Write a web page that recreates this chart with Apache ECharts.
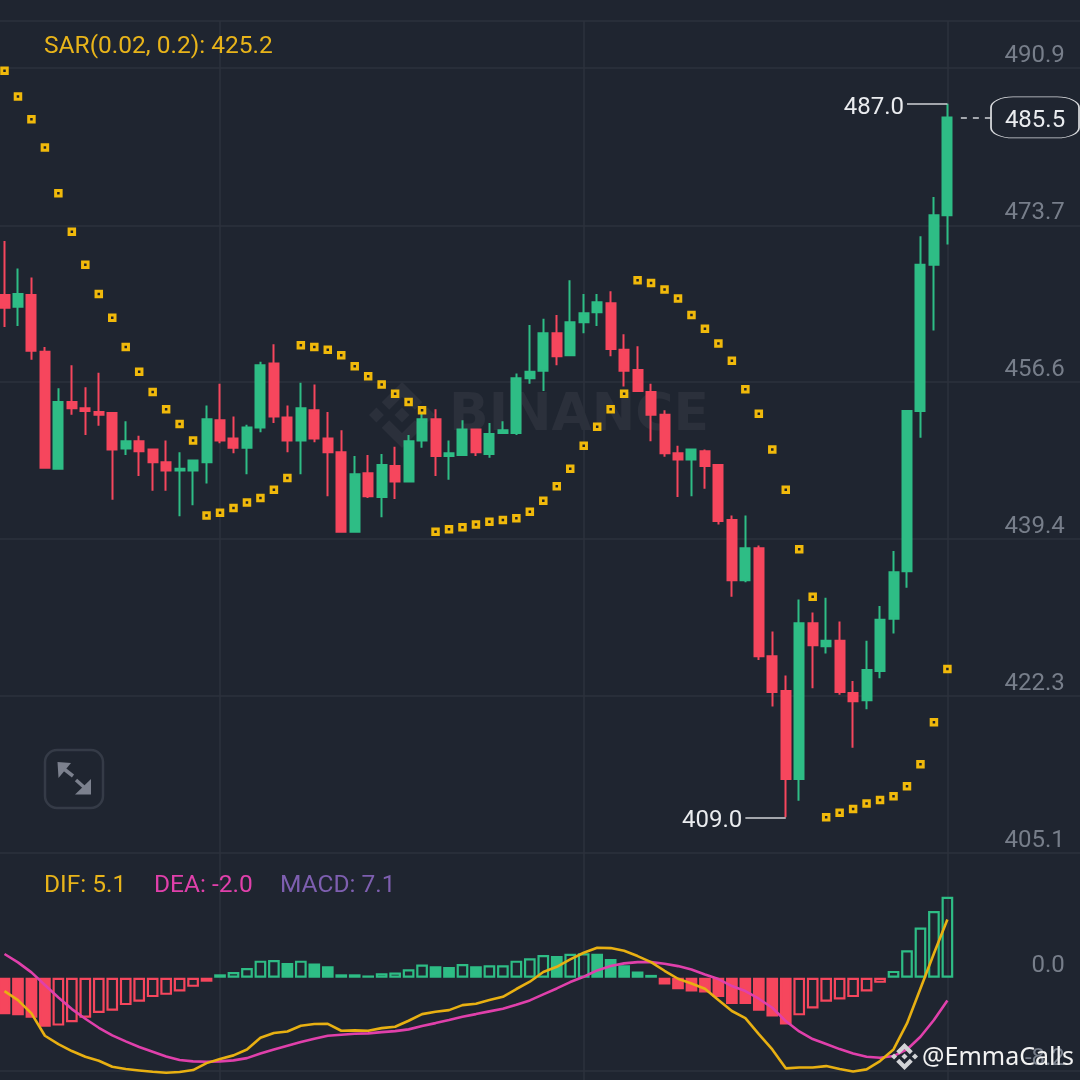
<!DOCTYPE html>
<html>
<head>
<meta charset="utf-8">
<title>SAR MACD</title>
<script src="https://cdn.jsdelivr.net/npm/echarts@6/dist/echarts.min.js"></script>
<style>
html, body { margin: 0; padding: 0; background: #1f2530; }
#chart { width: 1080px; height: 1080px; }
</style>
</head>
<body>
<div id="chart"></div>
<script>
// [open, close, low, high]
var candleData = [
    [466.1,464.7,462.6,472.0],[464.8,466.2,462.7,469.0],[466.1,460.0,459.0,468.0],[459.9,447.2,447.1,460.4],
    [447.1,454.4,447.1,455.9],[454.4,453.7,453.0,458.4],[453.7,453.4,450.8,456.0],[453.3,453.0,451.8,457.6],
    [453.2,449.2,443.7,453.3],[449.3,450.1,448.6,452.3],[450.1,449.0,446.3,450.7],[449.2,447.8,444.7,449.2],
    [447.8,446.9,444.7,450.2],[446.9,447.1,441.9,448.9],[446.9,448.0,443.1,448.1],[447.8,452.5,445.5,454.0],
    [452.4,450.2,449.9,456.4],[450.4,449.4,448.8,452.8],[449.4,451.6,446.5,451.9],[451.6,458.4,451.1,458.8],
    [458.6,452.8,452.1,460.7],[452.7,450.2,448.9,454.0],[450.2,453.7,446.5,456.5],[453.5,450.4,450.0,456.3],
    [450.4,448.9,444.1,453.3],[448.9,440.2,440.2,451.3],[440.2,446.5,440.2,448.5],[446.6,444.1,443.9,448.6],
    [444.0,447.5,441.8,448.7],[447.4,445.7,443.8,449.5],[445.7,450.1,445.7,450.8],[450.2,452.5,449.4,453.1],
    [452.5,448.5,446.3,453.6],[448.5,448.8,445.9,450.2],[448.6,451.4,448.5,452.4],[451.4,448.9,448.5,451.4],
    [448.7,450.9,448.3,452.1],[451.0,451.3,451.0,452.3],[451.0,457.0,450.8,457.5],[457.0,457.7,456.4,462.8],
    [457.8,461.9,455.6,463.5],[461.9,459.4,458.4,463.9],[459.5,463.1,459.5,467.7],[463.1,464.1,461.9,466.2],
    [464.2,465.3,462.7,466.2],[465.2,460.2,459.4,466.5],[460.1,457.8,456.1,461.8],[457.9,455.6,455.5,460.5],
    [455.5,453.0,450.1,456.4],[453.0,448.8,448.4,453.5],[448.8,448.1,444.0,449.6],[448.1,449.2,444.1,449.2],
    [449.0,447.4,444.9,449.2],[447.5,441.4,441.0,447.5],[441.5,434.9,433.1,442.0],[434.9,438.4,434.7,442.0],
    [438.4,426.6,426.2,438.7],[426.6,422.7,421.1,429.3],[422.8,413.2,409.0,424.5],[413.2,430.2,410.8,432.8],
    [430.2,427.8,423.1,431.4],[427.7,428.3,426.9,433.0],[428.3,422.7,422.4,430.4],[422.6,421.7,416.6,423.9],
    [421.8,425.1,420.8,428.3],[425.0,430.6,424.2,432.1],[430.7,435.8,429.1,438.1],[435.9,453.4,434.1,453.5],
    [453.4,469.4,450.5,472.5],[469.4,474.8,462.2,476.8],[474.8,485.5,471.6,487.0]
];
var sarValues = [
    490.6,487.8,485.3,482.2,477.2,473.0,469.4,466.2,463.6,460.4,457.7,455.5,453.6,452.0,450.2,
    442.0,442.3,442.8,443.4,443.9,444.8,446.1,
    460.6,460.4,460.1,459.5,458.3,457.2,456.3,455.3,454.4,453.5,
    440.2,440.5,440.7,441.0,441.3,441.5,441.7,442.4,443.6,445.2,447.1,449.6,451.7,453.6,455.3,
    467.7,467.4,466.7,465.7,463.9,462.4,460.8,458.9,455.8,453.1,449.2,444.8,438.3,433.1,
    409.0,409.5,409.9,410.5,410.9,411.3,412.4,414.8,419.4,425.2
];
var macdValues = [
    -3.2,-3.3,-3.5,-4.3,-4.2,-3.9,-3.5,-3.1,-2.9,-2.4,-2.1,-1.7,-1.5,-1.2,-0.8,-0.35,
    0.3,0.5,0.85,1.5,1.55,1.3,1.5,1.25,1.0,0.3,0.3,0.2,0.4,0.45,0.75,1.15,1.0,0.95,1.2,1.0,1.1,1.1,
    1.5,1.7,2.0,1.9,2.1,2.15,2.1,1.65,1.1,0.55,0.25,
    -0.6,-1.0,-1.2,-1.3,-1.7,-2.3,-2.3,-2.9,-3.4,-4.1,-3.3,-2.7,-2.1,-1.9,-1.7,-1.2,-0.45,
    0.6,2.4,4.4,5.85,7.1
];
// 1 = the bar is drawn as an outline only
var macdHollow = [
    0,0,0,0,1,1,1,1,1,1,1,1,1,1,1,0,0,1,1,1,1,0,1,0,0,0,0,0,1,1,1,1,0,0,1,0,
    1,1,1,1,1,0,1,1,0,0,0,0,0,0,0,0,0,0,0,0,0,0,0,1,1,1,1,1,1,1,1,1,1,1,1
];
var difValues = [
    -1.17,-1.96,-3.13,-5.09,-5.82,-6.43,-6.93,-7.28,-7.81,-8.01,-8.13,-8.25,-8.33,-8.27,-8.10,-7.49,
    -7.13,-6.81,-6.29,-5.26,-4.85,-4.71,-4.21,-4.06,-4.04,-4.65,-4.62,
    -4.65,-4.42,-4.30,-3.77,-3.19,-2.98,-2.84,-2.40,-2.28,-1.96,-1.67,-0.99,-0.35,0.50,0.96,1.61,2.19,
    2.63,2.60,2.37,1.90,1.37,0.61,-0.09,-0.50,-0.96,-1.96,
    -2.92,-3.54,-4.94,-6.29,-7.95,-7.87,-7.87,-7.75,-8.01,-8.22,-8.04,-7.31,-6.29,-4.01,-0.94,2.13,5.1
];
var deaValues = [
    2.08,1.35,0.47,-0.64,-1.73,-2.75,-3.60,-4.39,-5.06,-5.58,-6.08,-6.49,-6.90,-7.22,-7.34,-7.37,
    -7.34,-7.25,-7.05,-6.64,-6.29,-5.96,-5.64,-5.35,-5.09,-5.00,-4.91,
    -4.88,-4.77,-4.68,-4.53,-4.24,-3.98,-3.71,-3.42,-3.19,-2.95,-2.72,-2.37,-1.99,-1.46,-0.94,-0.38,0.09,
    0.64,1.02,1.26,1.37,1.37,1.23,1.02,0.73,0.29,-0.12,
    -0.73,-1.17,-1.84,-2.63,-3.80,-4.71,-5.38,-5.82,-6.26,-6.64,-6.93,-7.02,-6.87,-6.29,-5.18,-3.71,-2.0
];
var priceLabels = [405.1, 422.3, 439.4, 456.6, 473.7, 490.9];
var priceLines = [405.1, 422.3, 439.4, 456.6, 473.7, 490.9, 496.04];
var macdLabels = [-8.2, 0];
var macdLines = [-8.2];
var verticalLines = [16, 43, 70];
var highPrice = 487.0, lowPrice = 409.0, lastPrice = 485.5;
var sarText = 'SAR(0.02, 0.2): 425.2';
var difText = 'DIF: 5.1', deaText = 'DEA: -2.0', macdText = 'MACD: 7.1';

var upColor = '#2ebd85', downColor = '#f6465d', gridColor = '#2d323d', axisText = '#777e8a';
var yellow = '#f0b90b', pink = '#e040ab', purple = '#7e5fb0', bg = '#1f2530';
var fontName = 'Roboto';

// the five pieces of the exchange logo, on a box of 126.6
var logoPieces = [
    [[38.73,53.2],[63.32,28.62],[87.92,53.22],[102.22,38.91],[63.32,0],[24.42,38.9]],
    [[0,63.31],[14.3,49],[28.61,63.31],[14.3,77.61]],
    [[38.73,73.41],[63.32,98],[87.92,73.4],[102.23,87.69],[63.33,126.6],[24.42,87.72]],
    [[98,63.31],[112.3,49],[126.61,63.3],[112.3,77.62]],
    [[77.83,63.3],[63.32,48.78],[48.81,63.28],[63.32,77.79]]
];

// the axis runs on past the last candle, the right side is where the price labels sit
var categories = [];
for (var i = 0; i < 81; i++) {
    categories.push(String(i));
}

function showVertical(index) {
    return verticalLines.indexOf(index) >= 0;
}

function xAxisFor(gridIndex) {
    return {
        type: 'category',
        gridIndex: gridIndex,
        data: categories,
        axisLine: { show: false },
        axisTick: { show: false },
        axisLabel: { show: false },
        splitLine: {
            show: true,
            alignWithLabel: true,
            interval: showVertical,
            lineStyle: { color: gridColor, width: 1.5 }
        }
    };
}

function yAxisFor(gridIndex, min, max, lines, labels) {
    return {
        type: 'value',
        gridIndex: gridIndex,
        position: 'right',
        min: min,
        max: max,
        scale: true,
        axisLine: { show: false },
        axisTick: { show: false, customValues: lines },
        axisLabel: {
            inside: true,
            margin: 24,
            customValues: labels,
            verticalAlign: 'bottom',
            color: axisText,
            fontFamily: fontName,
            fontSize: 24,
            formatter: function (v) { return v.toFixed(1); }
        },
        splitLine: { show: true, lineStyle: { color: gridColor, width: 1.5 } }
    };
}

var macdBars = macdValues.map(function (v, i) {
    var c = v >= 0 ? upColor : downColor;
    return {
        value: v,
        itemStyle: {
            color: macdHollow[i] ? 'rgba(0,0,0,0)' : c,
            borderColor: c,
            borderWidth: 2.2
        }
    };
});

function legendText(text, x, y, color) {
    return {
        type: 'text', x: x, y: y, z: 50, silent: true,
        style: { text: text, fill: color, font: '24.5px ' + fontName, verticalAlign: 'middle' }
    };
}

function logoGraphics(x, y, size, fill, z) {
    var k = size / 126.6;
    return logoPieces.map(function (piece) {
        return {
            type: 'polygon', z: z, silent: true,
            shape: { points: piece.map(function (p) { return [x + p[0] * k, y + p[1] * k]; }) },
            style: { fill: fill }
        };
    });
}

// small line callout next to a candle
function calloutLabel(value) {
    return {
        show: true,
        position: 'start',
        formatter: value.toFixed(1),
        color: '#eaecef',
        fontFamily: fontName,
        fontSize: 24,
        distance: 3,
        offset: [0, 4]
    };
}

var calloutLine = { color: '#d0d2d6', width: 1.5, type: 'solid' };

var graphics = [
    legendText(sarText, 44, 47, '#e8b41a'),
    legendText(difText, 44, 886, '#e8b41a'),
    legendText(deaText, 154, 886, pink),
    legendText(macdText, 280, 886, purple),
    // faint mark behind the candles
    {
        type: 'text', x: 449, y: 416, z: 0, silent: true,
        style: { text: 'BINANCE', fill: '#2b303b', font: 'bold 52px "DejaVu Sans"', verticalAlign: 'middle' }
    },
    // expand button
    {
        type: 'rect', z: 50, silent: true,
        shape: { x: 45, y: 750, width: 58, height: 58, r: 12 },
        style: { fill: 'none', stroke: '#353b47', lineWidth: 2.5 }
    },
    {
        type: 'polygon', z: 50, silent: true,
        shape: { points: [[57.5, 762], [71, 763], [58.5, 778]] },
        style: { fill: '#7c818e' }
    },
    {
        type: 'polygon', z: 50, silent: true,
        shape: { points: [[91, 794.5], [91, 779], [75, 794.5]] },
        style: { fill: '#7c818e' }
    },
    {
        type: 'line', z: 50, silent: true,
        shape: { x1: 64, y1: 769, x2: 73, y2: 776 },
        style: { stroke: '#7c818e', lineWidth: 3.5 }
    },
    {
        type: 'line', z: 50, silent: true,
        shape: { x1: 76, y1: 780, x2: 85, y2: 788 },
        style: { stroke: '#7c818e', lineWidth: 3.5 }
    },
    // screenshot signature
    {
        type: 'text', x: 922, y: 1058, z: 60, silent: true,
        style: { text: '@EmmaCalls', fill: '#f2f2f2', font: '25px "Noto Sans"', verticalAlign: 'middle' }
    }
].concat(logoGraphics(369, 382, 66, '#2b303b', 0), logoGraphics(891, 1043, 27, '#d2d3d6', 60));

var chart = echarts.init(document.getElementById('chart'));
chart.setOption({
    animation: false,
    backgroundColor: bg,
    grid: [
        { left: -2.235, width: 1091.07, top: 21, height: 832, outerBoundsMode: 'none' },
        { left: -2.235, width: 1091.07, top: 853, height: 227, outerBoundsMode: 'none' }
    ],
    xAxis: [xAxisFor(0), xAxisFor(1)],
    yAxis: [
        yAxisFor(0, 405.1, 496.04, priceLines, priceLabels),
        yAxisFor(1, -8.97, 10.94, macdLines, macdLabels)
    ],
    series: [
        {
            name: 'Price',
            type: 'candlestick',
            data: candleData,
            barWidth: 9.5,
            itemStyle: {
                color: upColor, color0: downColor,
                borderColor: upColor, borderColor0: downColor,
                borderWidth: 2
            },
            markLine: {
                silent: true,
                symbol: 'none',
                animation: false,
                data: [
                    [
                        { coord: [67, highPrice], value: highPrice, lineStyle: calloutLine, label: calloutLabel(highPrice) },
                        { coord: [70, highPrice] }
                    ],
                    [
                        { coord: [55, lowPrice], value: lowPrice, lineStyle: calloutLine, label: calloutLabel(lowPrice) },
                        { coord: [58, lowPrice] }
                    ],
                    [
                        { coord: [71, lastPrice], value: lastPrice, lineStyle: { color: '#d0d2d6', width: 1.5, type: [6, 6] }, label: { show: false } },
                        { coord: [74, lastPrice] }
                    ]
                ]
            },
            markPoint: {
                silent: true,
                animation: false,
                symbol: 'roundRect',
                symbolSize: [88, 41],
                symbolOffset: [6.8, 0],
                itemStyle: { color: bg, borderColor: '#d8dadd', borderWidth: 1.2 },
                data: [{
                    coord: [76, lastPrice],
                    label: {
                        show: true,
                        position: 'inside',
                        formatter: lastPrice.toFixed(1),
                        offset: [0, 4],
                        color: '#eaecef',
                        fontFamily: fontName,
                        fontSize: 24
                    }
                }]
            }
        },
        {
            name: 'SAR',
            type: 'scatter',
            data: sarValues,
            symbol: 'rect',
            symbolSize: 5.5,
            itemStyle: { color: '#1f2024', borderColor: yellow, borderWidth: 3, opacity: 1 },
            z: 4
        },
        {
            name: 'MACD',
            type: 'bar',
            xAxisIndex: 1,
            yAxisIndex: 1,
            data: macdBars,
            // the border is drawn inside this width
            barWidth: 11.7
        },
        {
            name: 'DEA',
            type: 'line',
            xAxisIndex: 1,
            yAxisIndex: 1,
            data: deaValues,
            showSymbol: false,
            lineStyle: { color: pink, width: 2.6 },
            z: 4
        },
        {
            name: 'DIF',
            type: 'line',
            xAxisIndex: 1,
            yAxisIndex: 1,
            data: difValues,
            showSymbol: false,
            lineStyle: { color: '#e8b012', width: 2.6 },
            z: 5
        }
    ],
    graphic: graphics
});
</script>
</body>
</html>
